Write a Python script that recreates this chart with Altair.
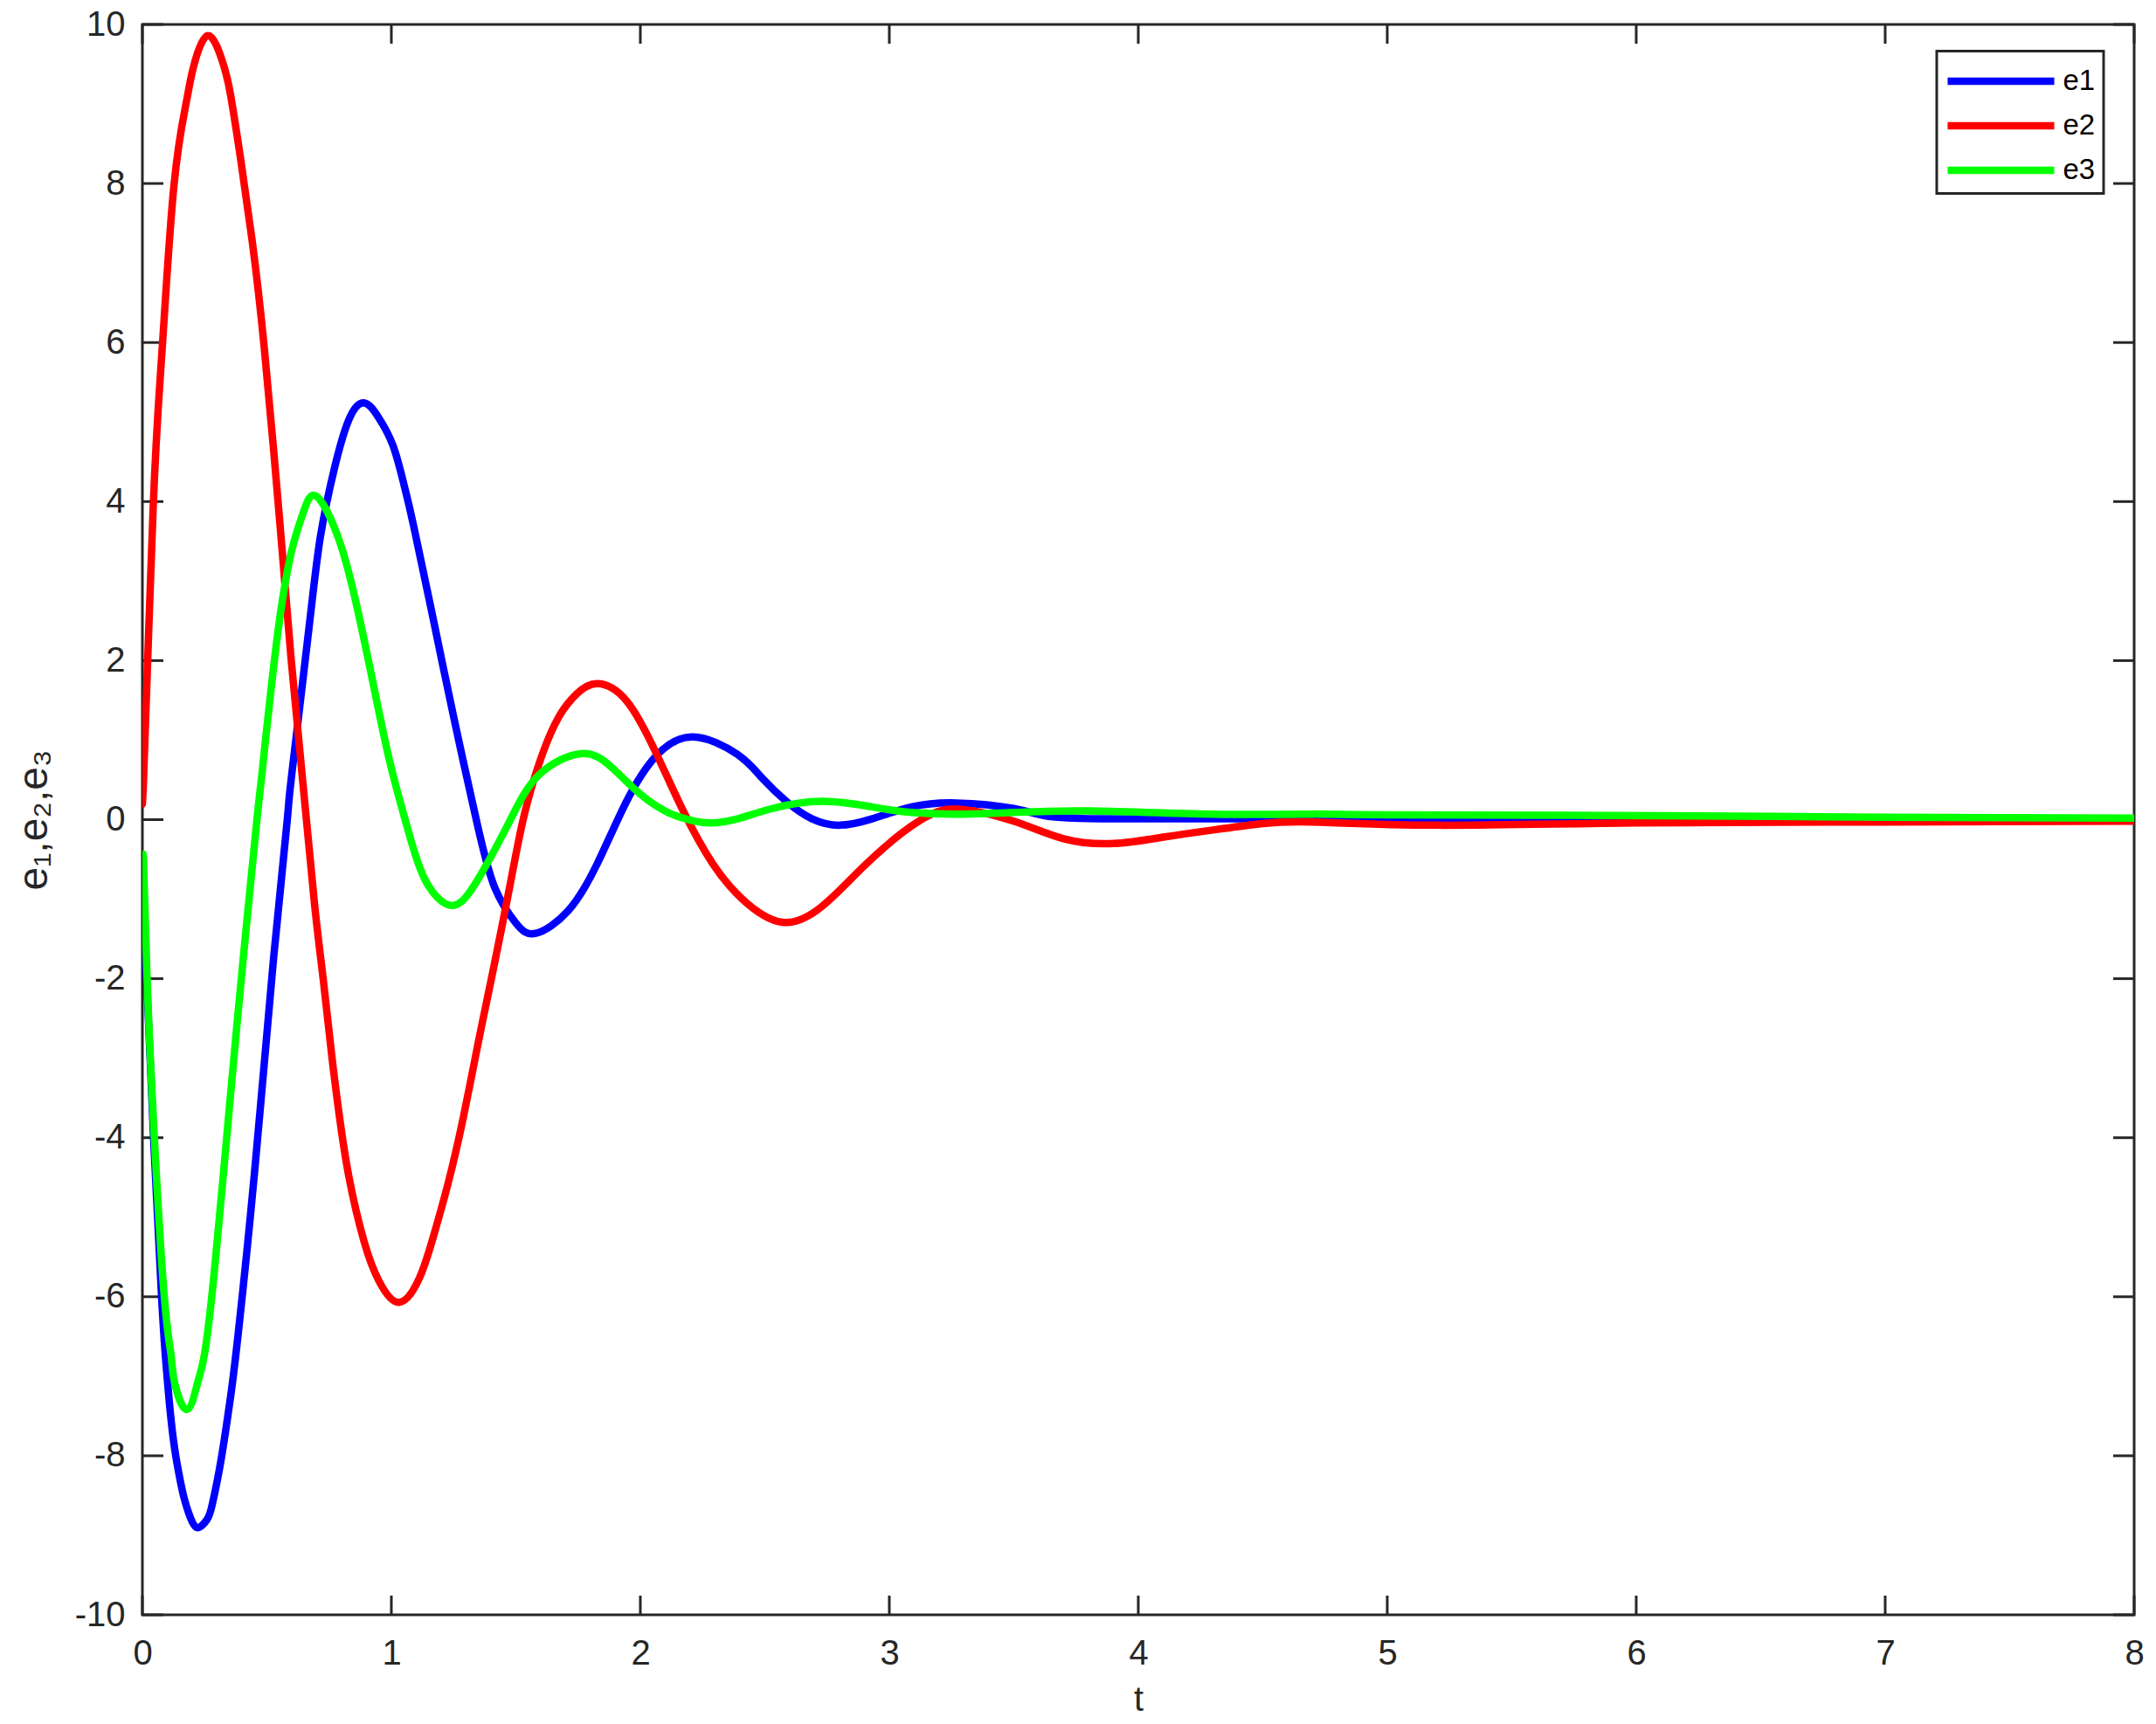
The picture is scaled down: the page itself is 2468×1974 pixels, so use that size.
import altair as alt
import pandas as pd

# ---- values ----
series_names = ["e1", "e2", "e3"]
series_colors = ["#0000FF", "#FF0000", "#00FF00"]

t_e1 = [0.0, 0.017, 0.045, 0.077, 0.095, 0.112, 0.13, 0.15, 0.17, 0.20, 0.228, 0.26, 0.28,
        0.316, 0.35, 0.38, 0.45, 0.527, 0.582, 0.598, 0.668, 0.715, 0.773, 0.832, 0.892, 0.95,
        1.007, 1.05, 1.089, 1.171, 1.253, 1.346, 1.416, 1.50, 1.58, 1.709, 1.826, 1.943, 2.06,
        2.21, 2.39, 2.49, 2.59, 2.69, 2.80, 2.93, 3.09, 3.27, 3.50, 3.64, 3.90, 4.50, 5.50,
        6.50, 8.0]
v_e1 = [-1.0, -2.0, -4.0, -6.0, -6.85, -7.45, -7.92, -8.28, -8.56, -8.83, -8.9, -8.8, -8.62,
        -8.05, -7.35, -6.6, -4.45, -1.74, 0.0, 0.52, 2.38, 3.56, 4.44, 5.05, 5.24, 5.05,
        4.7, 4.22, 3.70, 2.48, 1.25, -0.07, -0.86, -1.3, -1.43, -1.15, -0.56, 0.22, 0.79,
        1.04, 0.82, 0.52, 0.22, 0.01, -0.07, 0.01, 0.16, 0.21, 0.14, 0.04, 0.01, 0.01, 0.01,
        0.01, 0.0]

t_e2 = [0.0, 0.004, 0.043, 0.079, 0.126, 0.175, 0.204, 0.263, 0.325, 0.355, 0.395, 0.44,
        0.489, 0.553, 0.598, 0.645, 0.691, 0.726, 0.76, 0.79, 0.83, 0.89, 0.95, 1.03, 1.112,
        1.171, 1.229, 1.288, 1.346, 1.405, 1.475, 1.533, 1.604, 1.674, 1.744, 1.826, 1.943,
        2.06, 2.177, 2.29, 2.41, 2.57, 2.73, 2.89, 3.05, 3.17, 3.29, 3.50, 3.70, 3.90, 4.10,
        4.30, 4.50, 4.70, 5.20, 6.0, 7.0, 8.0]
v_e2 = [1.0, 0.45, 3.9, 5.9, 7.95, 9.0, 9.45, 9.86, 9.5, 9.1, 8.3, 7.3,
        5.95, 3.7, 2.0, 0.45, -1.05, -2.0, -2.95, -3.7, -4.5, -5.3, -5.8, -6.07, -5.77,
        -5.22, -4.56, -3.76, -2.85, -1.95, -0.85, 0.05, 0.8, 1.3, 1.58, 1.71, 1.50,
        0.86, 0.08, -0.55, -1.0, -1.29, -1.09, -0.61, -0.17, 0.07, 0.13, -0.02, -0.24, -0.30, -0.22,
        -0.13, -0.05, -0.03, -0.07, -0.04, -0.03, -0.02]

t_e3 = [0.0, 0.004, 0.019, 0.048, 0.088, 0.115, 0.13, 0.179, 0.221, 0.249, 0.29, 0.35, 0.404,
        0.46, 0.481, 0.539, 0.598, 0.645, 0.697, 0.785, 0.855, 0.925, 0.995, 1.066, 1.136,
        1.241, 1.346, 1.475, 1.592, 1.761, 1.884, 2.0, 2.118, 2.22, 2.29, 2.39, 2.53, 2.73,
        2.93, 3.09, 3.29, 3.50, 3.80, 4.30, 4.70, 5.0, 6.1, 7.0, 8.0]
v_e3 = [-1.0, -0.48, -2.0, -4.0, -6.0, -6.73, -7.09, -7.42, -7.09, -6.73, -5.65, -3.6, -1.78,
        0.0, 0.6, 2.23, 3.36, 3.85, 4.07, 3.56, 2.77, 1.74, 0.71, -0.12, -0.76,
        -1.08, -0.76, -0.02, 0.56, 0.83, 0.66, 0.32, 0.08, -0.02, -0.04, 0.01, 0.14, 0.23,
        0.16, 0.09, 0.07, 0.09, 0.11, 0.07, 0.07, 0.06, 0.05, 0.03, 0.02]

x_ticks = [0, 1, 2, 3, 4, 5, 6, 7, 8]
y_ticks = [-10, -8, -6, -4, -2, 0, 2, 4, 6, 8, 10]

# ---- build tables ----
rows = []
for name, ts, vs in zip(series_names, [t_e1, t_e2, t_e3], [v_e1, v_e2, v_e3]):
    for t, v in zip(ts, vs):
        rows.append({"t": t, "v": v, "series": name})
df = pd.DataFrame(rows)
xt = pd.DataFrame({"tick": x_ticks})
yt = pd.DataFrame({"tick": y_ticks})

W, H = 2280, 1821
AX = "#262626"
FONT = "Liberation Sans"

xscale = alt.Scale(domain=[0, 8], nice=False, zero=False)
yscale = alt.Scale(domain=[-10, 10], nice=False, zero=False)

lines = alt.Chart(df).mark_line(strokeWidth=8.5, interpolate="natural", clip=True).encode(
    x=alt.X("t:Q", scale=xscale,
            axis=alt.Axis(values=x_ticks, title="t", labelExpr="datum.value + ''",
                          labelFlush=False, labelOverlap=False,
                          labelPadding=24, titlePadding=13)),
    y=alt.Y("v:Q", scale=yscale,
            axis=alt.Axis(values=y_ticks, title="e₁,e₂,e₃", labelExpr="datum.value + ''",
                          labelFlush=False, labelOverlap=False,
                          labelPadding=20, titlePadding=22)),
    color=alt.Color("series:N",
                    scale=alt.Scale(domain=series_names, range=series_colors),
                    legend=alt.Legend(title=None, orient="none", legendX=2054, legendY=30.5,
                                      symbolType="M-3,0H3", symbolSize=1655,
                                      symbolStrokeWidth=8.5, symbolOffset=39,
                                      labelOffset=46, rowPadding=9, padding=9.5,
                                      labelFontSize=33, labelFont=FONT, labelColor="#000000",
                                      strokeColor=AX, fillColor="#FFFFFF")),
    detail="series:N",
)

tick_bottom = alt.Chart(xt).mark_rule(color=AX, strokeWidth=3).encode(
    x=alt.X("tick:Q", scale=xscale), y=alt.value(H), y2=alt.value(H - 22))
tick_top = alt.Chart(xt).mark_rule(color=AX, strokeWidth=3).encode(
    x=alt.X("tick:Q", scale=xscale), y=alt.value(0), y2=alt.value(22))
tick_left = alt.Chart(yt).mark_rule(color=AX, strokeWidth=3).encode(
    y=alt.Y("tick:Q", scale=yscale), x=alt.value(0), x2=alt.value(24))
tick_right = alt.Chart(yt).mark_rule(color=AX, strokeWidth=3).encode(
    y=alt.Y("tick:Q", scale=yscale), x=alt.value(W), x2=alt.value(W - 24))

chart = alt.layer(tick_bottom, tick_top, tick_left, tick_right, lines).properties(
    width=W, height=H,
    autosize=alt.AutoSizeParams(type="none"),
    padding={"left": 155, "top": 20, "right": 17, "bottom": 117},
    background="#FFFFFF",
).configure_view(
    stroke=AX, strokeWidth=3
).configure_axis(
    domain=False, ticks=False, grid=False,
    labelFont=FONT, labelFontSize=40, labelColor=AX,
    titleFont=FONT, titleFontSize=40, titleFontWeight="normal", titleColor=AX,
).configure_axisY(
    titleFontSize=48
).configure_legend(
    strokeWidth=3
)

chart.save("out.html", embed_options={"renderer": "svg", "actions": False})
